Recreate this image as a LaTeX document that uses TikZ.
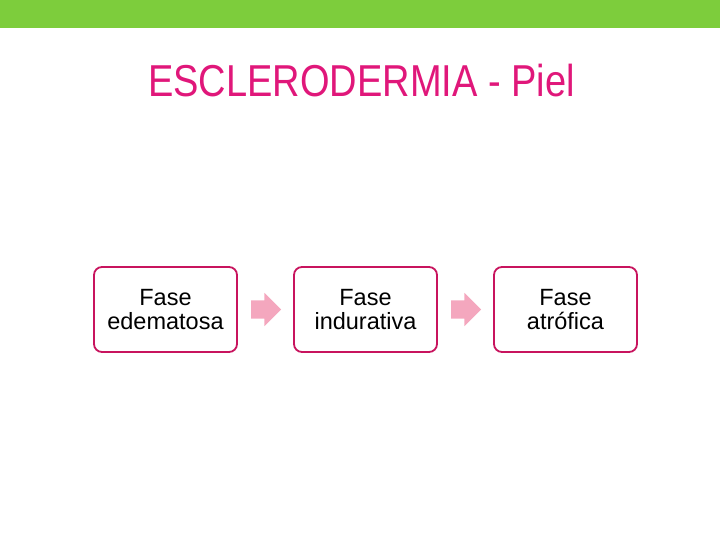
\documentclass[tikz,border=0pt]{standalone}
\usepackage{fontspec}
\setmainfont{Liberation Sans}
\newfontfamily\titlefont[FakeStretch=0.85]{Liberation Sans}
\usetikzlibrary{shapes.arrows,calc}
\definecolor{barra}{HTML}{7DCD3C}
\definecolor{titulo}{HTML}{E0177A}
\definecolor{borde}{HTML}{C8145E}
\definecolor{flecha}{HTML}{F4A7BE}
\tikzset{
  fase/.style={draw=borde,line width=1.8pt,rounded corners=8pt,fill=white,
    minimum width=143pt,minimum height=85pt,align=center,
    font=\fontsize{23.5}{24}\selectfont},
  paso/.style={single arrow,fill=flecha,draw=none,inner xsep=0pt,inner ysep=9pt,
    minimum height=30pt,minimum width=33pt,single arrow head extend=7.5pt,xshift=-4pt}
}
\begin{document}
\begin{tikzpicture}[x=1pt,y=-1pt]
			\useasboundingbox (0,0) rectangle (720,540);
			\fill[barra] (0,0) rectangle (720,28);
			\node[anchor=base,text=titulo,font=\titlefont\fontsize{44.7}{48}\selectfont,inner sep=0pt](titulo) at (361.5,97){ESCLERODERMIA - Piel};
			\node[fase](edema) at (165.5,309.5){Fase\\edematosa};
			\node[fase](indura) at (365.5,309.5){Fase\\indurativa};
			\node[fase](atrof) at (565.5,309.5){Fase\\atrófica};
			\node[paso](p1) at ($(edema.east)!0.5!(indura.west)$){};
			\node[paso](p2) at ($(indura.east)!0.5!(atrof.west)$){};
		\end{tikzpicture}
\end{document}
